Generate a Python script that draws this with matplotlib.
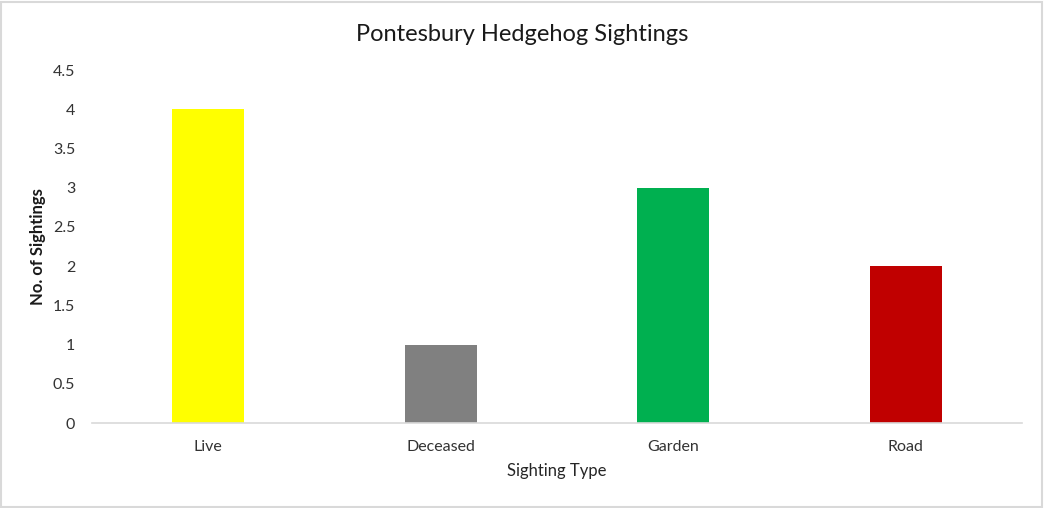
import matplotlib.pyplot as plt
from matplotlib.patches import Rectangle

plt.rcParams['font.family'] = ['Lato', 'DejaVu Sans']

categories = ["Live", "Deceased", "Garden", "Road"]
sightings = [4, 1, 3, 2]
bar_colors = ["#FFFF00", "#808080", "#00B050", "#C00000"]
y_ticks = [0, 0.5, 1, 1.5, 2, 2.5, 3, 3.5, 4, 4.5]
y_tick_labels = ["0", "0.5", "1", "1.5", "2", "2.5", "3", "3.5", "4", "4.5"]

fig = plt.figure(figsize=(10.44, 5.08), dpi=100)
ax = fig.add_axes([0.0881, 0.1673, 0.8908, 0.6949])

ax.bar(range(len(categories)), sightings, width=0.31, color=bar_colors)

ax.set_xlim(-0.5, len(categories) - 0.5)
ax.set_ylim(0, 4.5)
ax.set_yticks(y_ticks)
ax.set_yticklabels(y_tick_labels)
ax.set_xticks(range(len(categories)))
ax.set_xticklabels(categories)

for side in ["top", "right", "left"]:
    ax.spines[side].set_visible(False)
ax.spines["bottom"].set_color("#D9D9D9")
ax.spines["bottom"].set_linewidth(1.2)

ax.tick_params(axis="both", length=0, labelsize=11.5, labelcolor="#333333")
ax.tick_params(axis="x", pad=12)
ax.tick_params(axis="y", pad=12)

ax.set_xlabel("Sighting Type", fontsize=12, color="#262626", labelpad=7)
ax.set_ylabel("No. of Sightings", fontsize=12, color="#1a1a1a",
              fontweight="bold", labelpad=5)

fig.text(0.5, 0.933, "Pontesbury Hedgehog Sightings", ha="center", va="center",
         fontsize=17, color="#1a1a1a")

# thin grey frame round the whole chart
fig.patches.append(Rectangle((0.001, 0.002), 0.997, 0.995, transform=fig.transFigure,
                             fill=False, edgecolor="#D9D9D9", linewidth=1.5))

fig.savefig("out.png", dpi=100)
